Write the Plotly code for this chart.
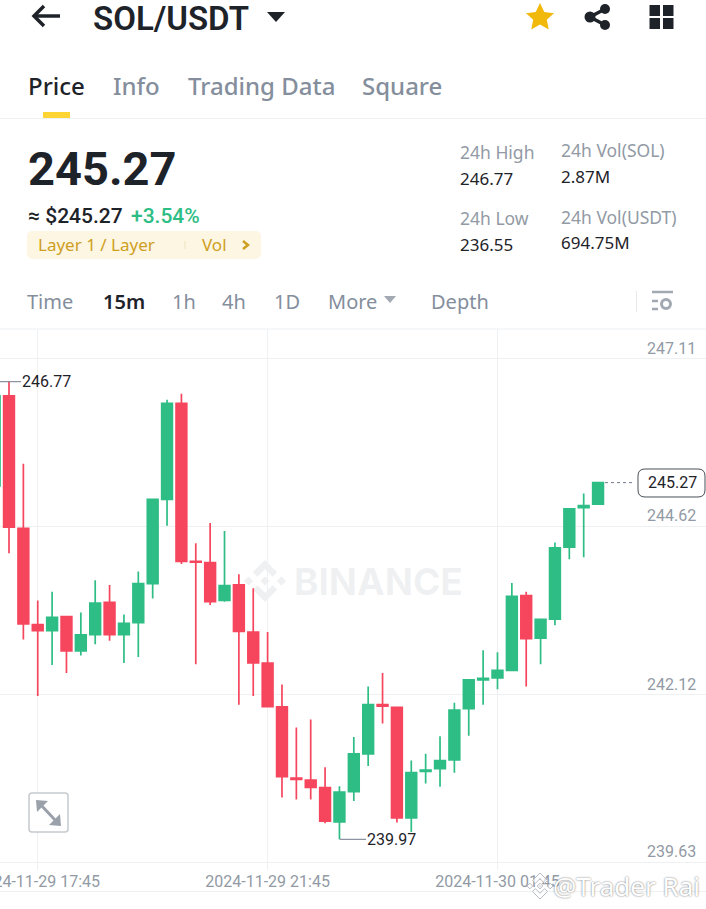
import plotly.graph_objects as go

WIDTH = 706
HEIGHT = 909

times = [
    "2024-11-29 17:00", "2024-11-29 17:15", "2024-11-29 17:30", "2024-11-29 17:45",
    "2024-11-29 18:00", "2024-11-29 18:15", "2024-11-29 18:30", "2024-11-29 18:45",
    "2024-11-29 19:00", "2024-11-29 19:15", "2024-11-29 19:30", "2024-11-29 19:45",
    "2024-11-29 20:00", "2024-11-29 20:15", "2024-11-29 20:30", "2024-11-29 20:45",
    "2024-11-29 21:00", "2024-11-29 21:15", "2024-11-29 21:30", "2024-11-29 21:45",
    "2024-11-29 22:00", "2024-11-29 22:15", "2024-11-29 22:30", "2024-11-29 22:45",
    "2024-11-29 23:00", "2024-11-29 23:15", "2024-11-29 23:30", "2024-11-29 23:45",
    "2024-11-30 00:00", "2024-11-30 00:15", "2024-11-30 00:30", "2024-11-30 00:45",
    "2024-11-30 01:00", "2024-11-30 01:15", "2024-11-30 01:30", "2024-11-30 01:45",
    "2024-11-30 02:00", "2024-11-30 02:15", "2024-11-30 02:30", "2024-11-30 02:45",
    "2024-11-30 03:00", "2024-11-30 03:15", "2024-11-30 03:30",
]
opens = [
    245.22, 246.56, 244.59, 243.16, 243.07, 243.28, 242.77, 243.01, 243.49, 243.01,
    243.19, 243.77, 245.02, 246.45, 244.10, 244.08, 243.52, 243.75, 243.05, 242.59,
    241.94, 240.88, 240.85, 240.74, 240.23, 240.68, 241.24, 241.97, 241.93, 240.29,
    240.98, 241.02, 241.15, 241.91, 242.34, 242.37, 242.48, 243.59, 242.96, 243.24,
    244.31, 244.90, 244.95,
]
highs = [
    246.60, 246.77, 245.55, 243.52, 243.65, 243.28, 243.34, 243.82, 243.75, 243.31,
    243.95, 245.02, 246.50, 246.59, 244.37, 244.67, 244.55, 243.91, 243.70, 243.05,
    242.27, 241.63, 241.75, 241.04, 240.76, 241.49, 242.24, 242.44, 241.94, 241.14,
    241.24, 241.50, 242.00, 242.34, 242.78, 242.75, 243.78, 243.65, 243.24, 244.38,
    244.89, 245.11, 245.27,
]
lows = [
    245.16, 244.22, 242.94, 242.10, 242.56, 242.44, 242.70, 242.87, 242.92, 242.59,
    242.68, 243.55, 244.63, 244.06, 242.57, 243.45, 243.50, 241.97, 242.10, 241.93,
    240.59, 240.56, 240.56, 240.21, 239.97, 240.54, 241.06, 241.69, 240.22, 240.08,
    240.80, 240.75, 240.96, 241.51, 241.97, 242.20, 242.48, 242.24, 242.57, 243.15,
    244.13, 244.16, 244.95,
]
closes = [
    246.56, 244.61, 243.17, 243.07, 243.27, 242.77, 243.01, 243.48, 243.01, 243.18,
    243.77, 245.02, 246.45, 244.10, 244.09, 243.50, 243.74, 243.06, 242.59, 241.94,
    240.90, 240.86, 240.74, 240.24, 240.67, 241.24, 241.97, 241.95, 240.29, 240.96,
    241.00, 241.14, 241.89, 242.34, 242.36, 242.48, 243.58, 242.95, 243.24, 244.30,
    244.88, 244.93, 245.27,
]

price_ticks = [247.11, 244.62, 242.12, 239.63]
time_ticks = ["2024-11-29 17:45", "2024-11-29 21:45", "2024-11-30 01:45"]
session_high = 246.77
session_low = 239.97
last_price = 245.27

DARK = "#1e2329"
GRAY = "#848e9c"
AXIS_GRAY = "#929aa5"
GRID = "#eff0f2"
GREEN = "#2ebd85"
RED = "#f6465d"
GOLD = "#cf9f22"
TEXT_FONT = "Noto Sans"
NUM_FONT = "Roboto"


def px(x):
    return x / WIDTH


def py(y):
    return 1 - y / HEIGHT


def label(x, y, text, size, color, weight=400, anchor="left", family=TEXT_FONT):
    return dict(
        x=px(x - 1), y=py(y), xref="paper", yref="paper", text=text, showarrow=False,
        xanchor=anchor, yanchor="middle", borderpad=0,
        font=dict(size=size, color=color, weight=weight, family=family),
    )


def price_label(x, price, text, color, size=16, anchor="left", yanchor="middle", yshift=0):
    return dict(
        x=px(x), y=price, xref="paper", yref="y", text=text, showarrow=False,
        xanchor=anchor, yanchor=yanchor, yshift=yshift, borderpad=0,
        font=dict(size=size, color=color, family=NUM_FONT),
    )


def path(points, close=True):
    parts = [f"{'M' if i == 0 else 'L'}{px(x):.5f},{py(y):.5f}" for i, (x, y) in enumerate(points)]
    return " ".join(parts) + (" Z" if close else "")


def filled(points, color, layer="above"):
    return dict(type="path", path=path(points), xref="paper", yref="paper",
                fillcolor=color, line=dict(width=0), layer=layer)


def stroke(points, color, width=2, close=False, fill=None, layer="above"):
    shape = dict(type="path", path=path(points, close), xref="paper", yref="paper",
                 line=dict(color=color, width=width), layer=layer)
    if fill:
        shape["fillcolor"] = fill
    return shape


def rect(x0, y0, x1, y1, color, layer="above"):
    return dict(type="rect", x0=px(x0), x1=px(x1), y0=py(y0), y1=py(y1), xref="paper",
                yref="paper", fillcolor=color, line=dict(width=0), layer=layer)


def circle(cx, cy, r, color=None, line_color=None, line_width=0):
    shape = dict(type="circle", x0=px(cx - r), x1=px(cx + r), y0=py(cy - r), y1=py(cy + r),
                 xref="paper", yref="paper", line=dict(width=line_width, color=line_color))
    if color:
        shape["fillcolor"] = color
    return shape


def rounded(x0, y0, x1, y1, r, fill, line_color=None, line_width=0):
    # quadratic corners, in paper units
    d = (
        f"M{px(x0 + r):.5f},{py(y0):.5f} L{px(x1 - r):.5f},{py(y0):.5f} "
        f"Q{px(x1):.5f},{py(y0):.5f} {px(x1):.5f},{py(y0 + r):.5f} "
        f"L{px(x1):.5f},{py(y1 - r):.5f} Q{px(x1):.5f},{py(y1):.5f} {px(x1 - r):.5f},{py(y1):.5f} "
        f"L{px(x0 + r):.5f},{py(y1):.5f} Q{px(x0):.5f},{py(y1):.5f} {px(x0):.5f},{py(y1 - r):.5f} "
        f"L{px(x0):.5f},{py(y0 + r):.5f} Q{px(x0):.5f},{py(y0):.5f} {px(x0 + r):.5f},{py(y0):.5f} Z"
    )
    return dict(type="path", path=d, xref="paper", yref="paper", fillcolor=fill,
                line=dict(width=line_width, color=line_color))


def binance_logo(cx, cy, s, fill, line_color=None, layer="below"):
    # five pieces of the logo, s is half its height
    pieces = [
        [(0, -1), (0.58, -0.42), (0.36, -0.2), (0, -0.56), (-0.36, -0.2), (-0.58, -0.42)],
        [(0, 1), (0.58, 0.42), (0.36, 0.2), (0, 0.56), (-0.36, 0.2), (-0.58, 0.42)],
        [(0, -0.22), (0.22, 0), (0, 0.22), (-0.22, 0)],
        [(-0.78, -0.22), (-0.56, 0), (-0.78, 0.22), (-1, 0)],
        [(0.78, -0.22), (1, 0), (0.78, 0.22), (0.56, 0)],
    ]
    shapes = []
    for piece in pieces:
        points = [(cx + s * a, cy + s * b) for a, b in piece]
        if line_color:
            shapes.append(stroke(points, line_color, 1, close=True, fill=fill, layer=layer))
        else:
            shapes.append(filled(points, fill, layer))
    return shapes


fig = go.Figure(
    go.Candlestick(
        x=times,
        open=opens,
        high=highs,
        low=lows,
        close=closes,
        increasing=dict(line=dict(color=GREEN, width=1.7), fillcolor=GREEN),
        decreasing=dict(line=dict(color=RED, width=1.7), fillcolor=RED),
        showlegend=False,
    )
)

annotations = [
    # header
    label(93, 19, "SOL/USDT", 33, DARK, 600, family=NUM_FONT),
    label(28, 86, "Price", 24, DARK, 500),
    label(113, 86, "Info", 24, GRAY, 500),
    label(188, 86, "Trading Data", 24, GRAY, 500),
    label(362, 86, "Square", 24, GRAY, 500),
    # price block
    label(28, 168, "245.27", 47, DARK, 700, family=NUM_FONT),
    label(28, 216, "≈ $245.27", 21, DARK, 500, family=NUM_FONT),
    label(131, 216, "+3.54%", 21, GREEN, 500, family=NUM_FONT),
    label(38, 245, "Layer 1 / Layer", 17, GOLD),
    label(202, 245, "Vol", 17, GOLD),
    # 24h stats
    label(460, 152, "24h High", 17.5, AXIS_GRAY),
    label(460, 178, "246.77", 17, DARK),
    label(460, 218, "24h Low", 17.5, AXIS_GRAY),
    label(460, 244, "236.55", 17, DARK),
    label(561, 150, "24h Vol(SOL)", 17.5, AXIS_GRAY),
    label(561, 176, "2.87M", 17, DARK),
    label(561, 217, "24h Vol(USDT)", 17.5, AXIS_GRAY),
    label(561, 242, "694.75M", 17, DARK),
    # interval row
    label(27, 302, "Time", 20, GRAY),
    label(103, 302, "15m", 20, DARK, 600),
    label(172, 302, "1h", 20, GRAY),
    label(222, 302, "4h", 20, GRAY),
    label(274, 302, "1D", 20, GRAY),
    label(328, 302, "More", 20, GRAY),
    label(431, 302, "Depth", 20, GRAY),
    # watermarks
    label(294, 581, "BINANCE", 37, "rgba(132,142,156,0.13)", 700, family="Inter"),
    dict(
        x=px(702), y=py(886), xref="paper", yref="paper", text="@Trader Rai", showarrow=False,
        xanchor="right", yanchor="middle",
        font=dict(size=26, color="#ffffff", family=TEXT_FONT, shadow="0 0 2px #666"),
    ),
    # chart labels
    price_label(21, session_high, f"{session_high}", DARK),
    price_label(366, session_low, f"{session_low}", DARK),
    price_label(672, last_price, f"{last_price}", DARK, anchor="center"),
]
for tick in price_ticks:
    annotations.append(
        price_label(697, tick, f"{tick}", AXIS_GRAY, anchor="right", yanchor="bottom")
    )

star = [
    (540, 3), (544.3, 12), (554, 13.2), (546.8, 19.8), (548.8, 29.5),
    (540, 24.6), (531.2, 29.5), (533.2, 19.8), (526, 13.2), (535.7, 12),
]

shapes = [
    # separators and tab marker
    rect(0, 118, WIDTH, 119, "#f0f1f3"),
    rect(43, 112, 70, 118, "#fcd535"),
    rect(0, 328.5, WIDTH, 329.5, "#eef0f2"),
    rect(0, 891, WIDTH, 892, "#eef0f2"),
    rect(636, 291, 637, 312, "#e6e8ea"),
    # back arrow, caret, star, share, grid
    stroke([(60, 16), (34, 16)], DARK, 3.5),
    stroke([(44, 6), (34, 16), (44, 26)], DARK, 3.5),
    filled([(267, 12), (285, 12), (276, 22)], DARK),
    filled(star, "#f0b90b"),
    stroke([(605, 9), (590, 17), (605, 25)], DARK, 3.5),
    circle(605, 9, 5, DARK),
    circle(590, 17, 5.5, DARK),
    circle(605, 25, 5, DARK),
    rect(649.5, 5, 660, 16, DARK),
    rect(663, 5, 673.5, 16, DARK),
    rect(649.5, 18, 660, 29, DARK),
    rect(663, 18, 673.5, 29, DARK),
    # tag under the price
    rounded(27, 231, 261, 259, 6, "#fdf6e3"),
    rect(184.5, 241, 185.5, 249, "#efe3bf"),
    stroke([(243, 241), (248, 245), (243, 249)], GOLD, 2.5),
    # interval row icons
    filled([(384, 296), (396, 296), (390, 303)], "#a3a9b3"),
    stroke([(652, 292), (673, 292)], "#a3a9b3", 2.5),
    stroke([(652, 301), (658, 301)], "#a3a9b3", 2.5),
    stroke([(652, 309), (658, 309)], "#a3a9b3", 2.5),
    circle(666, 304, 4.5, "#ffffff", "#a3a9b3", 3),
    # expand button
    rounded(29, 793, 68, 832, 3, "#ffffff", "#c6cace", 1.5),
    filled([(36, 800), (48, 801), (37, 812)], "#9aa1ab"),
    filled([(61, 826), (49, 825), (60, 814)], "#9aa1ab"),
    stroke([(41, 805), (56, 821)], "#9aa1ab", 3),
    # high, low and last price markers
    dict(type="line", xref="paper", yref="y", x0=0, x1=px(21), y0=session_high, y1=session_high,
         line=dict(color="#707a8a", width=1)),
    dict(type="line", xref="paper", yref="y", x0=px(339.7), x1=px(366), y0=session_low,
         y1=session_low, line=dict(color="#707a8a", width=1)),
    dict(type="line", xref="paper", yref="y", x0=px(605), x1=px(632), y0=last_price,
         y1=last_price, line=dict(color="#707a8a", width=1, dash="3px,3px")),
    rounded(638, 469, 705, 497, 7, "#ffffff", "#4a5058", 1),
]
shapes += binance_logo(265, 581, 21, "rgba(132,142,156,0.13)")
shapes += binance_logo(540, 886, 13, "rgba(255,255,255,0.6)", "#b9bdc3", layer="above")

fig.update_layout(
    width=WIDTH,
    height=HEIGHT,
    margin=dict(l=0, r=0, t=0, b=0, autoexpand=False),
    plot_bgcolor="white",
    paper_bgcolor="white",
    boxgap=0.08,
    boxgroupgap=0.19,
    annotations=annotations,
    shapes=shapes,
    font=dict(family=NUM_FONT),
)
fig.update_xaxes(
    type="date",
    range=["2024-11-29 17:05:36", "2024-11-30 05:22:42"],
    domain=[0, 1],
    automargin=False,
    rangeslider_visible=False,
    tickmode="array",
    tickvals=time_ticks,
    ticktext=time_ticks,
    ticklabeloverflow="allow",
    tickfont=dict(size=16, color=AXIS_GRAY, family=NUM_FONT),
    ticklen=0,
    showgrid=True,
    gridcolor=GRID,
    gridwidth=1,
    showline=False,
    zeroline=False,
)
fig.update_yaxes(
    domain=[py(870), py(329)],
    range=[239.514, 247.553],
    tickmode="array",
    tickvals=price_ticks,
    showticklabels=False,
    showgrid=True,
    gridcolor=GRID,
    gridwidth=1,
    showline=False,
    zeroline=False,
)

fig.write_html("out.html", config={"displayModeBar": False},
               post_script="document.body.style.margin='0';")
